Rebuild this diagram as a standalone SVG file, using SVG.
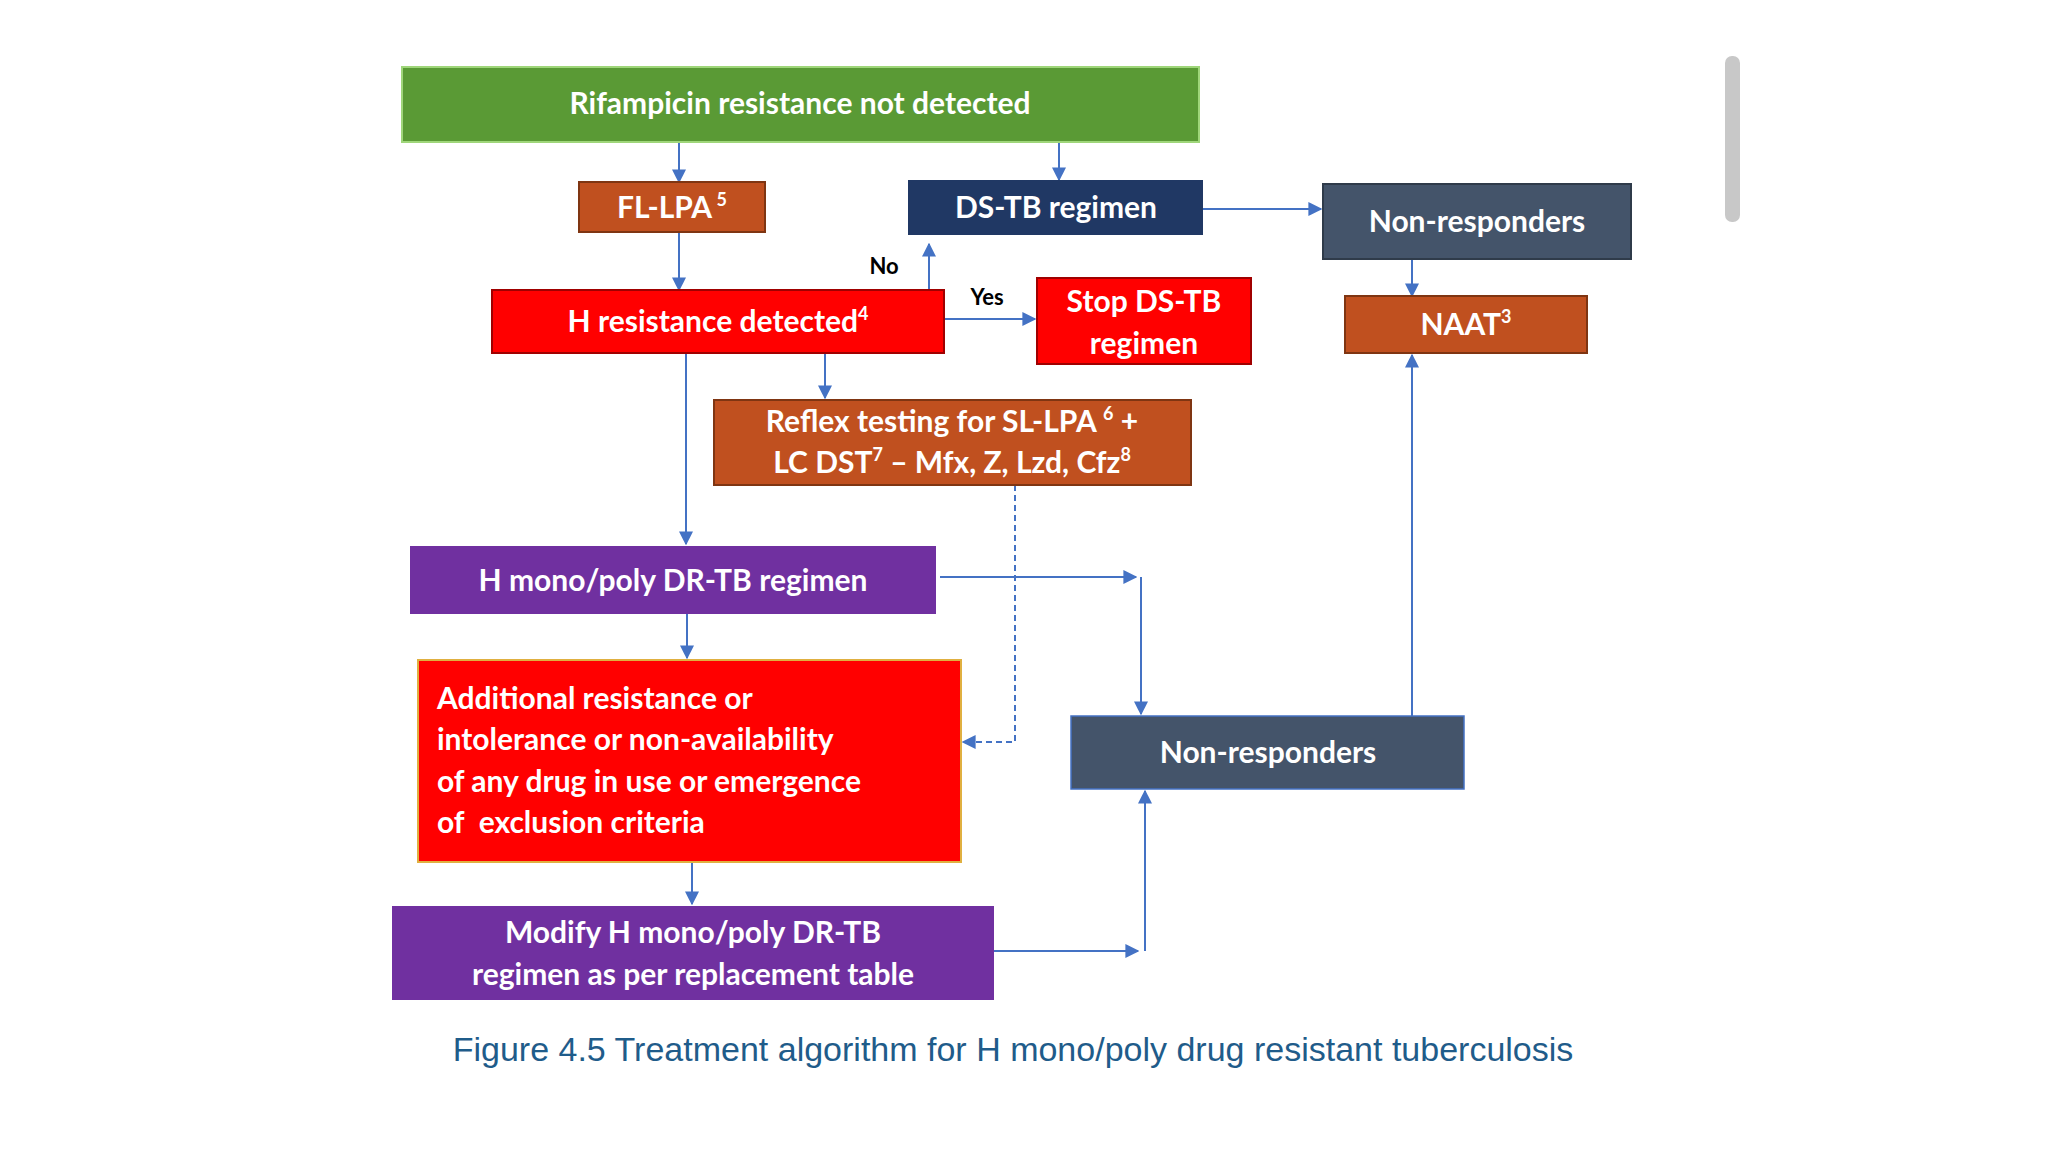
<svg xmlns="http://www.w3.org/2000/svg" width="2048" height="1152" viewBox="0 0 2048 1152">
<style>
.t{font-family:Lato,"Open Sans","Liberation Sans",sans-serif;font-weight:bold;font-size:30px;fill:#fff;text-anchor:middle}
.l{text-anchor:start}
.c{stroke:#4472C4;stroke-width:2;fill:none}
.lab{font-family:Lato,"Liberation Sans",sans-serif;font-weight:bold;font-size:22px;fill:#000}
</style>
<defs><marker id="a" viewBox="0 0 10 10" refX="9" refY="5" markerWidth="7" markerHeight="7" orient="auto"><path d="M0,0L10,5L0,10z" fill="#4472C4"/></marker></defs>
<rect width="2048" height="1152" fill="#fff"/>
<rect x="1725" y="56" width="15" height="166" rx="7" fill="#c8c8c8"/>
<g id="connectors">
<path class="c" d="M679,142V182" marker-end="url(#a)"/>
<path class="c" d="M1059,142V180" marker-end="url(#a)"/>
<path class="c" d="M1203,209H1321" marker-end="url(#a)"/>
<path class="c" d="M1412,259V296" marker-end="url(#a)"/>
<path class="c" d="M679,232V290" marker-end="url(#a)"/>
<path class="c" d="M929,290V244" marker-end="url(#a)"/>
<path class="c" d="M944,319H1035" marker-end="url(#a)"/>
<path class="c" d="M825,353V398" marker-end="url(#a)"/>
<path class="c" d="M686,353V544" marker-end="url(#a)"/>
<path class="c" d="M687,614V658" marker-end="url(#a)"/>
<path class="c" d="M1015,485V742H963" stroke-dasharray="6,4" marker-end="url(#a)"/>
<path class="c" d="M940,577H1136" marker-end="url(#a)"/>
<path class="c" d="M1141,577V714" marker-end="url(#a)"/>
<path class="c" d="M692,862V904" marker-end="url(#a)"/>
<path class="c" d="M994,951H1138" marker-end="url(#a)"/>
<path class="c" d="M1145,951V791" marker-end="url(#a)"/>
<path class="c" d="M1412,716V355" marker-end="url(#a)"/>
</g>
<text class="lab" x="884" y="274" text-anchor="middle">No</text>
<text class="lab" x="987" y="305" text-anchor="middle">Yes</text>
<g id="n1"><rect x="402" y="67" width="797" height="75" fill="#5A9A35" stroke="#9FD67A" stroke-width="2"/><text class="t" x="800" y="114">Rifampicin resistance not detected</text></g>
<g id="n2"><rect x="579" y="182" width="186" height="50" fill="#C0501F" stroke="#7F3512" stroke-width="2"/><text class="t" x="672" y="218">FL-LPA<tspan font-size="18" dy="-12"> 5</tspan></text></g>
<g id="n3"><rect x="908" y="180" width="295" height="55" fill="#203864"/><text class="t" x="1056" y="218">DS-TB regimen</text></g>
<g id="n4"><rect x="1323" y="184" width="308" height="75" fill="#44546A" stroke="#2F3B4A" stroke-width="2"/><text class="t" x="1477" y="232">Non-responders</text></g>
<g id="n5"><rect x="1345" y="296" width="242" height="57" fill="#C0501F" stroke="#7F3512" stroke-width="2"/><text class="t" x="1466" y="335">NAAT<tspan font-size="18" dy="-12">3</tspan></text></g>
<g id="n6"><rect x="492" y="290" width="452" height="63" fill="#FF0000" stroke="#A00000" stroke-width="2"/><text class="t" x="718" y="332">H resistance detected<tspan font-size="18" dy="-12">4</tspan></text></g>
<g id="n7"><rect x="1037" y="278" width="214" height="86" fill="#FF0000" stroke="#A00000" stroke-width="2"/><text class="t" x="1144" y="312">Stop DS-TB</text><text class="t" x="1144" y="354">regimen</text></g>
<g id="n8"><rect x="714" y="400" width="477" height="85" fill="#C0501F" stroke="#7F3512" stroke-width="2"/><text class="t" x="952" y="432">Reflex testing for SL-LPA <tspan font-size="18" dy="-12">6</tspan><tspan dy="12"> +</tspan></text><text class="t" x="952" y="473">LC DST<tspan font-size="18" dy="-12">7</tspan><tspan dy="12"> – Mfx, Z, Lzd, Cfz</tspan><tspan font-size="18" dy="-12">8</tspan></text></g>
<g id="n9"><rect x="410" y="546" width="526" height="68" fill="#7030A0"/><text class="t" x="673" y="591">H mono/poly DR-TB regimen</text></g>
<g id="n10"><rect x="418" y="660" width="543" height="202" fill="#FF0000" stroke="#E0B040" stroke-width="2"/><text class="t l" x="437" y="709">Additional resistance or</text><text class="t l" x="437" y="750">intolerance or non-availability</text><text class="t l" x="437" y="792">of any drug in use or emergence</text><text class="t l" x="437" y="833" xml:space="preserve">of  exclusion criteria</text></g>
<g id="n11"><rect x="1071" y="716" width="393" height="73" fill="#44546A" stroke="#4472C4" stroke-width="1.5"/><text class="t" x="1268" y="763">Non-responders</text></g>
<g id="n12"><rect x="392" y="906" width="602" height="94" fill="#7030A0"/><text class="t" x="693" y="943">Modify H mono/poly DR-TB</text><text class="t" x="693" y="985">regimen as per replacement table</text></g>
<text x="1013" y="1061" font-family="Liberation Sans,Arial,sans-serif" font-size="34" fill="#1F5C8A" text-anchor="middle">Figure 4.5 Treatment algorithm for H mono/poly drug resistant tuberculosis</text>
</svg>
